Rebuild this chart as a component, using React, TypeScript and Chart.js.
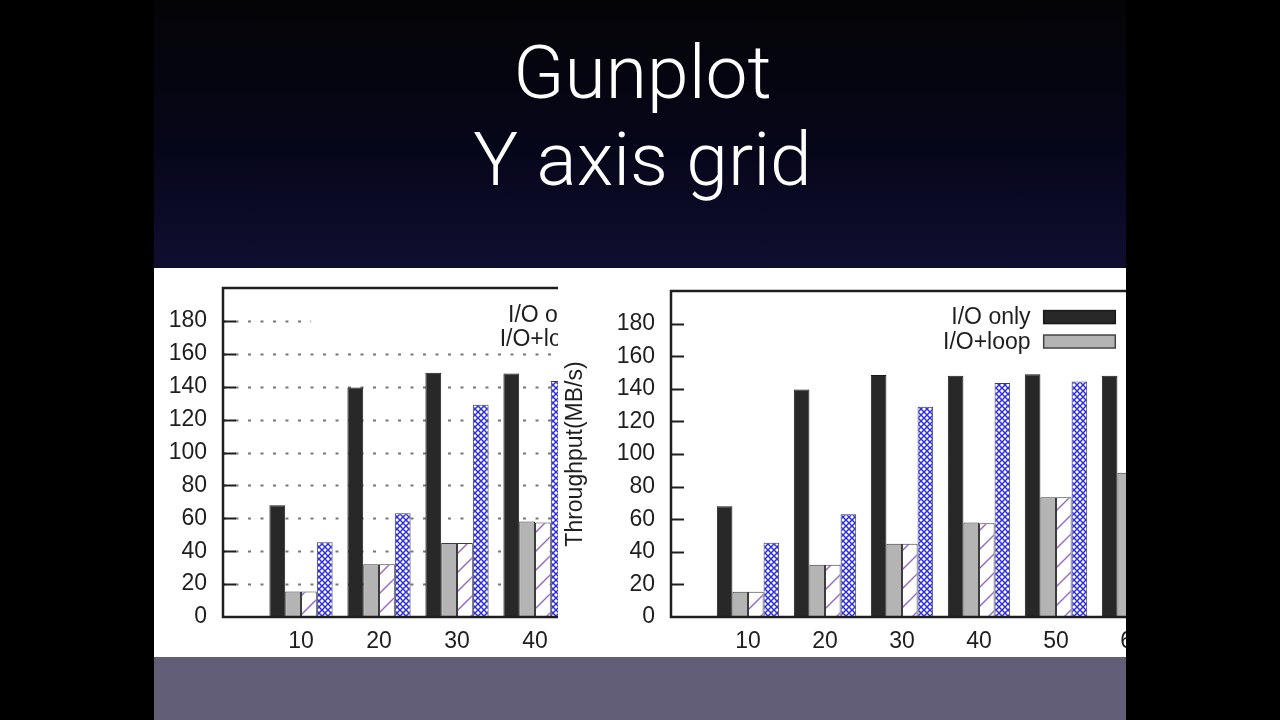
import React, { useEffect, useRef } from "react";
import { Chart, registerables } from "chart.js";

Chart.register(...registerables);

// ---------- data ----------
const categories = ["10", "20", "30", "40", "50", "60"];
const xLabels = ["", ...categories, ""];
const yTickLabels = [0, 20, 40, 60, 80, 100, 120, 140, 160, 180];
const yMax = 200;
const seriesNames = ["I/O only", "I/O+loop"];
const ioOnly = [68, 139.5, 148.5, 148, 149, 148];
const ioLoop = [15.5, 32, 45, 58, 73.5, 88.5];
const hatchedSeries = [15.5, 32, 45, 57.5, 73.5, null];
const crossSeries = [45.5, 63, 129, 143.5, 144.5, null];
const yTitle = "Throughput(MB/s)";
const slideTitle = ["Gunplot", "Y axis grid"];

const FONT = "'Liberation Sans', Arial, Helvetica, sans-serif";
const INK = "#1e1e1e";

const pad = (a: (number | null)[]) => [null, ...a, null];

function makeHatch(): CanvasPattern | string {
  const s = 19;
  const c = document.createElement("canvas");
  c.width = s;
  c.height = s;
  const g = c.getContext("2d");
  if (!g) return "#fff";
  g.fillStyle = "#ffffff";
  g.fillRect(0, 0, s, s);
  g.strokeStyle = "#9466c4";
  g.lineWidth = 1.4;
  g.beginPath();
  g.moveTo(-2, s + 2);
  g.lineTo(s + 2, -2);
  g.moveTo(-2, 2);
  g.lineTo(2, -2);
  g.moveTo(s - 2, s + 2);
  g.lineTo(s + 2, s - 2);
  g.stroke();
  return g.createPattern(c, "repeat") || "#fff";
}

function makeCross(): CanvasPattern | string {
  const s = 6;
  const c = document.createElement("canvas");
  c.width = s;
  c.height = s;
  const g = c.getContext("2d");
  if (!g) return "#33f";
  g.fillStyle = "#ffffff";
  g.fillRect(0, 0, s, s);
  g.strokeStyle = "#3030d8";
  g.lineWidth = 1.5;
  g.beginPath();
  g.moveTo(-1, -1);
  g.lineTo(s + 1, s + 1);
  g.moveTo(s + 1, -1);
  g.lineTo(-1, s + 1);
  g.stroke();
  return g.createPattern(c, "repeat") || "#33f";
}

const gnuplotPlugin = {
  id: "gnuplotLook",
  beforeDatasetsDraw(chart: any, _args: any, opts: any) {
    const { ctx, chartArea } = chart;
    const { left, right, top } = chartArea;
    const xs = chart.scales.x;
    const ys = chart.scales.y;
    const u = xs.getPixelForValue(1) - xs.getPixelForValue(0);
    ctx.save();
    if (opts.grid) {
      ctx.strokeStyle = "#777777";
      ctx.lineWidth = 1.8;
      ctx.setLineDash([3, 9.5]);
      for (const v of yTickLabels) {
        if (v === 0) continue;
        const y = Math.round(ys.getPixelForValue(v)) + 0.5;
        ctx.beginPath();
        ctx.moveTo(left, y);
        ctx.lineTo(right, y);
        ctx.stroke();
      }
      ctx.setLineDash([]);
      // opaque key area
      ctx.fillStyle = "#ffffff";
      const kx = left + u * 1.13;
      ctx.fillRect(kx, top + 8, right - kx, 54);
    }
    ctx.restore();
  },
  afterDatasetsDraw(chart: any) {
    const { ctx, chartArea } = chart;
    const { left, right, top, bottom } = chartArea;
    const xs = chart.scales.x;
    const ys = chart.scales.y;
    const u = xs.getPixelForValue(1) - xs.getPixelForValue(0);
    const h = bottom - top;
    ctx.save();
    // inward ticks
    ctx.strokeStyle = INK;
    ctx.lineWidth = 2;
    for (const v of yTickLabels) {
      if (v === 0) continue;
      const y = Math.round(ys.getPixelForValue(v)) + 0.5;
      ctx.beginPath();
      ctx.moveTo(left, y);
      ctx.lineTo(left + 13, y);
      ctx.stroke();
    }
    // frame
    ctx.lineWidth = 2.5;
    ctx.strokeRect(left, top, right - left, bottom - top);
    // key
    ctx.font = `23px ${FONT}`;
    ctx.textAlign = "right";
    ctx.textBaseline = "middle";
    const rows = [0.08, 0.155];
    chart.data.datasets.forEach((ds: any, i: number) => {
      if (!ds.label || i >= rows.length) return;
      const y = top + h * rows[i];
      ctx.fillStyle = INK;
      ctx.fillText(ds.label, left + u * 4.67, y + 1);
      const bx = left + u * 4.84;
      const bw = u * 0.93;
      ctx.fillStyle = ds.backgroundColor;
      ctx.fillRect(bx, y - 6.5, bw, 13);
      ctx.strokeStyle = i === 0 ? "#1a1a1a" : "#444";
      ctx.lineWidth = 1.5;
      ctx.strokeRect(bx, y - 6.5, bw, 13);
    });
    ctx.restore();
  },
};

type PanelProps = {
  left: number;
  width: number;
  axisWidth: number;
  spacing: number;
  padTop: number;
  grid: boolean;
  showTitle: boolean;
};

function Panel(p: PanelProps) {
  const ref = useRef<HTMLCanvasElement>(null);
  const H = 389;
  const padRight = 10;
  const canvasWidth = p.axisWidth + p.spacing * (xLabels.length - 1) + padRight;

  useEffect(() => {
    if (!ref.current) return;
    const hatch = makeHatch();
    const cross = makeCross();
    const chart = new Chart(ref.current, {
      type: "bar",
      data: {
        labels: xLabels,
        datasets: [
          {
            label: seriesNames[0],
            data: pad(ioOnly),
            backgroundColor: "#282828",
            borderColor: "#1a1a1a",
            borderWidth: 1,
          },
          {
            label: seriesNames[1],
            data: pad(ioLoop),
            backgroundColor: "#b4b4b4",
            borderColor: "#3c3c3c",
            borderWidth: 1,
          },
          {
            label: "",
            data: pad(hatchedSeries),
            backgroundColor: hatch as any,
            borderColor: "#3c3c3c",
            borderWidth: 1,
          },
          {
            label: "",
            data: pad(crossSeries),
            backgroundColor: cross as any,
            borderColor: "#3a3a70",
            borderWidth: 1,
          },
        ],
      },
      options: {
        animation: false,
        responsive: false,
        maintainAspectRatio: false,
        devicePixelRatio: 1,
        layout: { padding: { left: 0, top: p.padTop, right: padRight, bottom: 0 } },
        datasets: {
          bar: { categoryPercentage: 0.81, barPercentage: 1 },
        } as any,
        plugins: {
          legend: { display: false },
          tooltip: { enabled: false },
          gnuplotLook: { grid: p.grid } as any,
        } as any,
        scales: {
          x: {
            type: "category",
            offset: false,
            grid: { display: false, offset: false, drawTicks: false },
            border: { display: false },
            ticks: {
              autoSkip: false,
              maxRotation: 0,
              padding: 11,
              color: INK,
              font: { family: FONT, size: 23 },
            },
            afterFit: (s: any) => {
              s.height = 40;
              s.paddingLeft = 0;
              s.paddingRight = 0;
            },
          },
          y: {
            min: 0,
            max: yMax,
            grid: { display: false, drawTicks: false },
            border: { display: false },
            ticks: {
              stepSize: 20,
              padding: 16,
              color: INK,
              font: { family: FONT, size: 23 },
              callback: (v: any) => (yTickLabels.includes(Number(v)) ? String(v) : ""),
            },
            title: {
              display: p.showTitle,
              text: yTitle,
              color: INK,
              font: { family: FONT, size: 23 },
              padding: { top: 4, bottom: 0 },
            },
            afterFit: (s: any) => {
              s.width = p.axisWidth;
              s.paddingTop = 0;
              s.paddingBottom = 0;
            },
          },
        },
      },
      plugins: [gnuplotPlugin as any],
    });
    return () => chart.destroy();
  }, []);

  return (
    <div
      style={{
        position: "absolute",
        left: p.left,
        top: 268,
        width: p.width,
        height: H,
        overflow: "hidden",
        background: "#ffffff",
      }}
    >
      <canvas
        ref={ref}
        width={canvasWidth}
        height={H}
        style={{ display: "block", width: canvasWidth, height: H }}
      />
    </div>
  );
}

export default function App() {
  return (
    <div
      style={{
        position: "fixed",
        left: 0,
        top: 0,
        width: 1280,
        height: 720,
        background: "#000000",
        overflow: "hidden",
      }}
    >
      <div
        style={{
          position: "absolute",
          left: 154,
          top: 0,
          width: 972,
          height: 268,
          background: "linear-gradient(180deg, #040406 0%, #06061a 55%, #100e30 100%)",
        }}
      />
      <div
        style={{
          position: "absolute",
          left: 154,
          top: 657,
          width: 972,
          height: 63,
          background: "#625e78",
        }}
      />
      <div
        style={{
          position: "absolute",
          left: 154,
          top: 29,
          width: 972,
          paddingLeft: 5,
          boxSizing: "border-box",
          textAlign: "center",
          color: "#ffffff",
          fontFamily: "Roboto, 'Liberation Sans', sans-serif",
          fontWeight: 300,
          fontSize: 75,
          lineHeight: "87px",
        }}
      >
        {slideTitle.map((t) => (
          <div key={t}>{t}</div>
        ))}
      </div>
      <Panel left={154} width={404} axisWidth={69} spacing={78} padTop={20} grid={true} showTitle={false} />
      <Panel left={558} width={568} axisWidth={113} spacing={77} padTop={23} grid={false} showTitle={true} />
    </div>
  );
}
